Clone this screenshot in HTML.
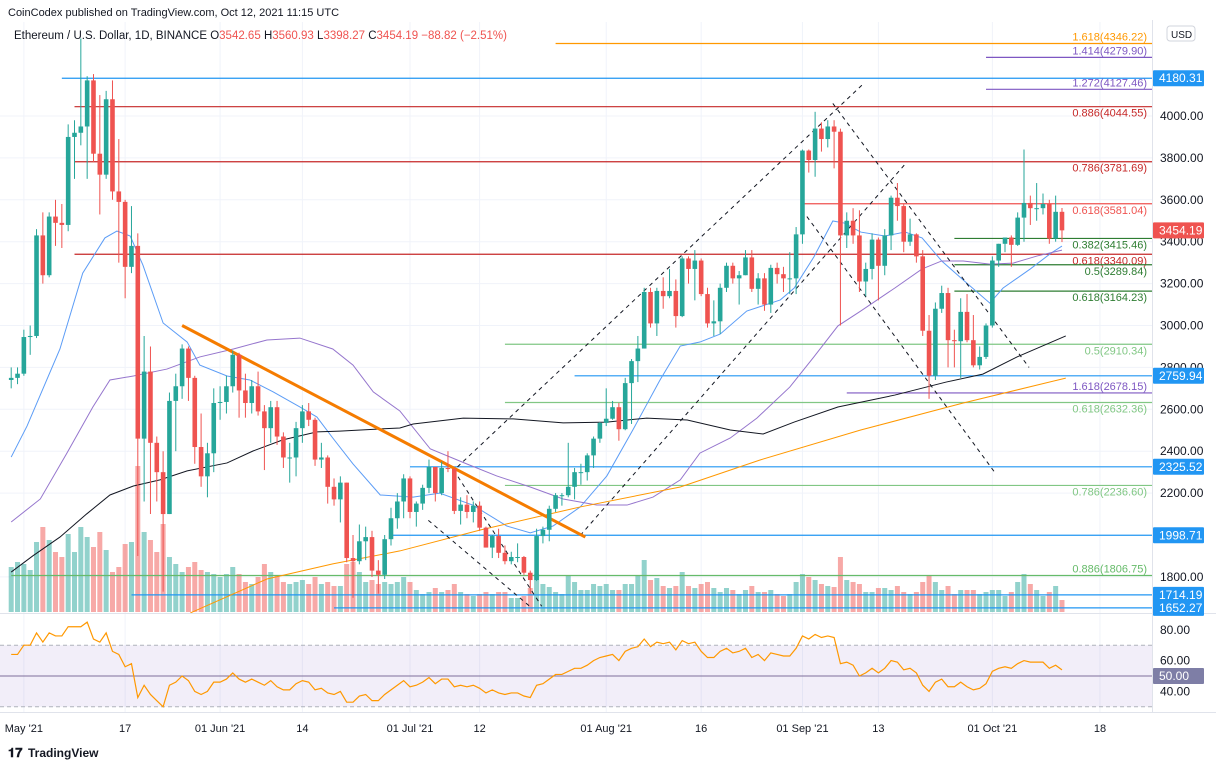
<!DOCTYPE html>
<html><head><meta charset="utf-8"><title>ETHUSD chart</title>
<style>
html,body{margin:0;padding:0;background:#fff;}
body{width:1216px;height:768px;overflow:hidden;font-family:"Liberation Sans",sans-serif;}
svg text{font-family:"Liberation Sans",sans-serif;}
</style></head>
<body>
<svg id="chart" width="1216" height="768" viewBox="0 0 1216 768" xmlns="http://www.w3.org/2000/svg">
<rect x="0" y="0" width="1216" height="768" fill="#ffffff"/>
<text x="8" y="16" font-size="11" fill="#131722">CoinCodex published on TradingView.com, Oct 12, 2021 11:15 UTC</text>
<g id="grid"></g>
<g id="vol"></g>
<g id="hlines"></g>
<g id="mas"></g>
<g id="draw"></g>
<g id="candles"></g>
<g id="rsi"></g>
<g id="axis"></g>
<text x="14" y="39" font-size="11.5" fill="#131722">Ethereum / U.S. Dollar, 1D, BINANCE  <tspan fill="#131722">O</tspan><tspan fill="#ef5350">3542.65</tspan>  <tspan fill="#131722">H</tspan><tspan fill="#ef5350">3560.93</tspan>  <tspan fill="#131722">L</tspan><tspan fill="#ef5350">3398.27</tspan>  <tspan fill="#131722">C</tspan><tspan fill="#ef5350">3454.19  −88.82 (−2.51%)</tspan></text>
<g>
<text x="8" y="757" font-size="13" font-weight="bold" fill="#131722">𝟏𝟕</text>
<text x="28" y="757" font-size="12" font-weight="bold" fill="#131722">TradingView</text>
</g>
</svg>
<script>
// ---- data ----
const firstOpen = 2740;
const closes = [2750,2770,
2945,2950,3430,3240,3520,3490,3480,3900,3920,3950,4170,3820,3720,4080,3640,3590,3280,3380,2460,2780,2440,2300,2100,2640,2710,2890,2750,2420,2280,2390,2630,
2635,2710,2860,2690,2630,2710,2590,2510,2610,2470,2370,2370,2510,2590,2550,2360,2370,2230,2170,2250,1890,1875,1970,1990,1830,1810,1980,2080,2160,2270,
2110,2150,2225,2325,2200,2320,2315,2115,2145,2110,2140,2035,1940,1995,1915,1875,1895,1895,1820,1785,1995,2025,2125,2190,2190,2230,2300,2300,2380,2460,2535,
2555,2610,2505,2725,2830,2890,3160,3010,3165,3140,3165,3045,3320,3270,3310,3150,3010,3020,3180,3285,3225,3240,3325,3175,3225,3100,3275,3245,3225,3225,3435,
3835,3790,3940,3890,3950,3925,3430,3500,3430,3210,3270,3410,3285,3430,3610,3570,3400,3435,3330,2975,2760,3080,3155,2930,2925,3065,2930,2810,2850,3000,
3310,3390,3420,3385,3515,3585,3560,3560,3580,3415,3542.65,3454.19];
const highs = [2800,2800,
2980,3000,3460,3540,3540,3600,3580,3960,3980,4370,4190,4200,4100,4120,4170,3890,3600,3570,3440,2950,2900,2470,2400,2680,2770,2910,2900,2760,2580,2440,2700,
2710,2760,2880,2870,2770,2740,2780,2620,2640,2640,2490,2440,2540,2620,2630,2560,2440,2380,2270,2280,2250,2000,2050,2040,2020,1880,2000,2130,2200,2290,
2280,2160,2240,2360,2320,2350,2400,2320,2180,2190,2160,2160,2040,2000,2030,1950,1920,1960,1900,1830,2030,2040,2140,2200,2200,2440,2320,2340,2390,2470,2540,
2700,2640,2630,2750,2840,2950,3180,3180,3180,3230,3270,3220,3330,3330,3360,3320,3180,3120,3200,3300,3300,3260,3360,3360,3250,3250,3290,3300,3280,3350,3470,
3840,3840,4020,3970,3980,3980,3940,3540,3560,3550,3300,3440,3420,3460,3620,3680,3580,3510,3440,3360,3050,3110,3190,3180,2980,3130,3150,3050,2900,3010,
3330,3390,3400,3430,3540,3840,3620,3680,3630,3600,3620,3560.93];
const lows = [2700,2720,
2760,2860,2940,3200,3230,3380,3370,3450,3700,3860,3700,3780,3530,3700,3600,3300,3130,3250,1900,2160,2100,2160,1730,2100,2400,2650,2640,2340,2230,2180,2300,
2550,2580,2680,2560,2560,2580,2570,2310,2440,2430,2320,2250,2280,2440,2520,2330,2320,2150,2140,2060,1870,1700,1860,1880,1800,1720,1790,1950,2030,2080,
2080,2040,2120,2200,2160,2190,2300,2100,2050,2080,2060,2020,1940,1890,1890,1860,1860,1870,1810,1720,1780,1960,1970,2110,2140,2180,2170,2240,2260,2320,2440,
2520,2550,2450,2500,2530,2730,2890,2990,2950,3080,3130,2990,3040,3200,3120,3140,2990,2950,2960,3160,3200,3100,3240,3160,3100,3070,3060,3200,3160,3150,3150,
3390,3730,3710,3830,3850,3750,3000,3370,3390,3160,3140,3220,3120,3240,3360,3500,3350,3380,3300,2950,2650,2740,3060,2800,2800,2750,2920,2800,2790,2840,
2990,3280,3350,3280,3380,3400,3480,3500,3530,3390,3400,3398.27];
const volumes = [45,50,
48,42,70,85,72,60,55,78,60,85,75,65,80,62,40,45,68,70,146,80,72,60,88,55,48,40,45,50,42,40,38,
35,38,45,38,30,28,35,48,40,36,30,28,30,32,28,35,28,30,26,26,48,50,40,30,32,28,30,28,30,35,
30,22,18,20,24,20,22,28,20,18,16,18,20,18,20,20,14,14,16,24,38,28,25,20,18,36,30,22,22,28,26,
28,22,22,28,28,36,52,32,34,26,24,26,40,26,24,28,30,24,20,24,22,18,22,26,20,20,22,18,16,18,30,
38,35,32,28,26,25,55,32,30,28,20,20,24,24,22,26,20,18,20,30,36,30,22,26,18,22,22,22,18,20,
22,22,16,20,30,38,28,22,16,20,26,12];
const rsiValues = [64,64,
70,70,78,72,78,76,76,82,82,82,85,74,72,78,66,64,56,58,36,44,38,34,30,44,46,50,47,40,38,40,46,
46,48,52,48,46,48,46,44,47,43,41,41,45,47,46,41,42,39,38,40,33,33,37,38,34,34,38,41,44,47,
43,44,46,49,45,48,48,43,44,43,44,42,39,41,39,38,39,39,37,36,44,45,48,51,51,53,55,55,57,60,62,
63,64,60,66,68,69,74,69,72,71,72,67,73,71,72,66,62,62,66,68,65,66,68,62,64,60,65,64,63,63,68,
76,74,77,75,76,75,58,59,57,50,52,55,52,55,60,59,54,55,52,44,40,46,48,43,43,46,43,41,42,45,
53,55,56,55,58,60,59,59,59,55,57,54];
const ma20 = [[0,2372],[2.5,2520],[7.7,2888],[11.3,3250],[14.8,3418],[16.7,3451],[18.8,3427],[20.8,3289],[24,3012],[27.8,2921],[29.8,2811],[34.1,2759],[37.7,2740],[41.4,2683],[45.6,2611],[48.3,2563],[50.8,2463],[54,2339],[58.3,2191],[63.5,2181],[67.7,2200],[72.9,2143],[78.3,2043],[82,2010],[85.6,2043],[89.9,2134],[94.1,2282],[98.2,2501],[102.5,2740],[105.7,2902],[108.8,2921],[112,2959],[116.2,3069],[121.5,3122],[123.7,3179],[126.8,3327],[129.8,3499],[131.6,3489],[134.2,3446],[138,3427],[141.2,3446],[143.9,3418],[147,3308],[150.4,3217],[154.6,3107],[156.7,3179],[161,3270],[164.3,3346],[166,3379]];
const ma50 = [[0,2062],[4.6,2172],[8.8,2391],[12.9,2611],[15.6,2740],[19.3,2759],[24.6,2792],[29.8,2850],[35.1,2888],[40.4,2931],[45.6,2940],[50.8,2888],[54,2811],[57.2,2683],[61.4,2592],[66.2,2411],[72,2339],[76.7,2282],[82,2229],[87.2,2172],[92.5,2143],[97.3,2143],[101.4,2181],[105.7,2263],[108.8,2391],[113.6,2463],[117.8,2558],[123,2706],[126.8,2850],[130.6,2998],[134.2,3069],[139.6,3179],[143.9,3270],[147,3308],[150.4,3308],[154.6,3293],[158.3,3298],[162.1,3332],[166,3360]];
const ma100 = [[0,1823],[3.4,1900],[7.7,1990],[11.9,2100],[15.6,2191],[19.3,2234],[23.5,2263],[27.8,2306],[34.1,2344],[38.2,2401],[42.9,2454],[48.3,2492],[51.9,2496],[61.4,2511],[63.5,2530],[71.4,2558],[79.3,2554],[87.2,2535],[94.1,2539],[100.4,2558],[106.8,2549],[113.6,2501],[118.8,2482],[123.7,2539],[130.6,2611],[139.6,2668],[147.7,2730],[153.5,2768],[158.9,2850],[166.6,2950]];
const ma200 = [[28.3,1628],[40.4,1790],[50.8,1862],[61.4,1924],[74.1,2024],[89.9,2134],[105.7,2229],[118.3,2358],[134.2,2501],[150.4,2630],[166.6,2749]];
const levelPrices = [4346.22,4279.90,4180.31,4127.46,4044.55,3781.69,3581.04,3415.46,3340.09,3289.84,3164.23,2910.34,2759.94,2678.15,2632.36,2325.52,2236.60,1998.71,1806.75,1714.19,1652.27];
const levelLabels = ["1.618","1.414","","1.272","0.886","0.786","0.618","0.382","0.618","0.5","0.618","0.5","","1.618","0.618","","0.786","","0.886","",""];
const levelStartDay = [86,154,8,154,10,10,125,149,10,149,149,78,89,132,78,63,78,60,0,19,51];
const levelColors = ["#ff9800","#7e57c2","#2196f3","#7e57c2","#c62828","#c62828","#ef5350","#2e7d32","#c62828","#2e7d32","#2e7d32","#81c784","#2196f3","#7e57c2","#81c784","#2196f3","#81c784","#2196f3","#66bb6a","#2196f3","#2196f3"];
const levelAbove = [1,1,0,1,0,0,0,0,0,0,0,0,0,1,0,0,0,0,1,0,0];
const priceTicks = [4000,3800,3600,3400,3200,3000,2800,2600,2400,2200,1800];
const rsiTicks = [80,60,40];
const dateTicks = [[2,"May '21"],[18,"17"],[33,"01 Jun '21"],[46,"14"],[63,"01 Jul '21"],[74,"12"],[94,"01 Aug '21"],[109,"16"],[125,"01 Sep '21"],[137,"13"],[155,"01 Oct '21"],[172,"18"]];
const channelLines = [
 [[70.5,2325],[134.5,4150]], [[89.9,1998],[141.5,3780]],
 [[69.9,2310],[83.8,1660]], [[65.9,2070],[82.3,1650]],
 [[129.8,4060],[160.8,2800]], [[125.7,3520],[155.6,2290]]];
const orangeTrend = [[27,3000],[90.7,1990]];

// ---- scales ----
const X0=11.2, DX=6.33;
function xOf(i){return X0+i*DX;}
function yOf(p){return 116+(4000-p)*0.2095;}
function yR(v){return 676-(v-50)*1.54;}
const NS='http://www.w3.org/2000/svg';
function mk(tag,attrs,parent){const e=document.createElementNS(NS,tag);for(const k in attrs)e.setAttribute(k,attrs[k]);parent.appendChild(e);return e;}
const G=id=>document.getElementById(id);

const grid=G('grid');
priceTicks.forEach(p=>{const l=mk('line',{x1:0,x2:1152,y1:yOf(p),y2:yOf(p),stroke:'#f0f3fa','stroke-width':1},grid);

});
dateTicks.forEach(d=>{const l=mk('line',{x1:xOf(d[0]),x2:xOf(d[0]),y1:22,y2:712,stroke:'#f0f3fa','stroke-width':1},grid);

});

const vol=G('vol');
volumes.forEach((v,i)=>{const o=i?closes[i-1]:firstOpen;const up=closes[i]>=o;
const r=mk('rect',{x:xOf(i)-2.5,y:612-v,width:5,height:v,fill:up?'rgba(38,166,154,0.5)':'rgba(239,83,80,0.5)'},vol);

});

const hl=G('hlines');
levelPrices.forEach((p,k)=>{const y=yOf(p);const x1=xOf(levelStartDay[k]);
const l=mk('line',{x1:x1,x2:1152,y1:y,y2:y,stroke:levelColors[k],'stroke-width':1.2},hl);


if(levelLabels[k]){const t=mk('text',{x:1147,y:levelAbove[k]?y-3:y+10,'font-size':11,fill:levelColors[k],'text-anchor':'end'},hl);
t.textContent=levelLabels[k]+'('+p.toFixed(2)+')';

}});

const mas=G('mas');
[[ma20,'#5b9cf6'],[ma50,'#9575cd'],[ma100,'#131722'],[ma200,'#ff9800']].forEach((m,k)=>{
const pl=mk('polyline',{points:m[0].map(q=>xOf(q[0])+','+yOf(q[1])).join(' '),fill:'none',stroke:m[1],'stroke-width':1},mas);

});

const dr=G('draw');
channelLines.forEach(c=>{const l=mk('line',{x1:xOf(c[0][0]),y1:yOf(c[0][1]),x2:xOf(c[1][0]),y2:yOf(c[1][1]),stroke:'#131722','stroke-width':1,'stroke-dasharray':'4 4'},dr);

});
const ot=mk('line',{x1:xOf(orangeTrend[0][0]),y1:yOf(orangeTrend[0][1]),x2:xOf(orangeTrend[1][0]),y2:yOf(orangeTrend[1][1]),stroke:'#f57c00','stroke-width':3},dr);



const cg=G('candles');
closes.forEach((c,i)=>{const o=i?closes[i-1]:firstOpen;const up=c>=o;const col=up?'#26a69a':'#ef5350';const x=xOf(i);
const w=mk('line',{x1:x,x2:x,y1:yOf(highs[i]),y2:yOf(lows[i]),stroke:col,'stroke-width':1},cg);


const t=yOf(Math.max(o,c)),b=yOf(Math.min(o,c));
const r=mk('rect',{x:x-2.3,y:t,width:4.6,height:Math.max(1,b-t),fill:col},cg);

});

const rg=G('rsi');
const sep=mk('line',{x1:0,x2:1216,y1:613.5,y2:613.5,stroke:'#e0e3eb'},rg);


const band=mk('rect',{x:0,y:yR(70),width:1152,height:yR(30)-yR(70),fill:'rgba(126,87,194,0.1)'},rg);


[70,30].forEach(v=>{const l=mk('line',{x1:0,x2:1152,y1:yR(v),y2:yR(v),stroke:'#b0b3bc','stroke-dasharray':'4 3'},rg);

});
const mid=mk('line',{x1:0,x2:1152,y1:yR(50),y2:yR(50),stroke:'#7e6f9a','stroke-width':1},rg);


const rl=mk('polyline',{points:rsiValues.map((v,i)=>xOf(i)+','+yR(v)).join(' '),fill:'none',stroke:'#ff9800','stroke-width':1.2},rg);



const ax=G('axis');
const ab=mk('line',{x1:1152.5,x2:1152.5,y1:20,y2:712,stroke:'#e0e3eb'},ax);


const xb=mk('line',{x1:0,x2:1216,y1:712.5,y2:712.5,stroke:'#e0e3eb'},ax);


priceTicks.forEach(p=>{const t=mk('text',{x:1160,y:yOf(p)+4,'font-size':12,fill:'#131722'},ax);t.textContent=p.toFixed(2);

});
rsiTicks.forEach(v=>{const t=mk('text',{x:1160,y:yR(v)+4,'font-size':12,fill:'#131722'},ax);t.textContent=v.toFixed(2);

});
function badge(y,txt,bg,name){const r=mk('rect',{x:1153,y:y-8,width:51,height:16,fill:bg,rx:1},ax);


const t=mk('text',{x:1159,y:y+4,'font-size':12,fill:'#fff'},ax);t.textContent=txt;

}
levelPrices.forEach((p,k)=>{if(!levelLabels[k])badge(yOf(p),p.toFixed(2),'#2196f3','level-badge');});
badge(yOf(closes[closes.length-1]),closes[closes.length-1].toFixed(2),'#ef5350','last-price-badge');
badge(yR(50),'50.00','#7e7ea6','rsi-50-badge');
dateTicks.forEach(d=>{const t=mk('text',{x:xOf(d[0]),y:732,'font-size':11,fill:'#131722','text-anchor':'middle'},ax);t.textContent=d[1];

});
const ub=mk('rect',{x:1167,y:26,width:28,height:15,rx:3,fill:'#fff',stroke:'#d1d4dc'},ax);


const ut=mk('text',{x:1171,y:38,'font-size':10,fill:'#131722'},ax);ut.textContent='USD';


</script>
</body></html>
